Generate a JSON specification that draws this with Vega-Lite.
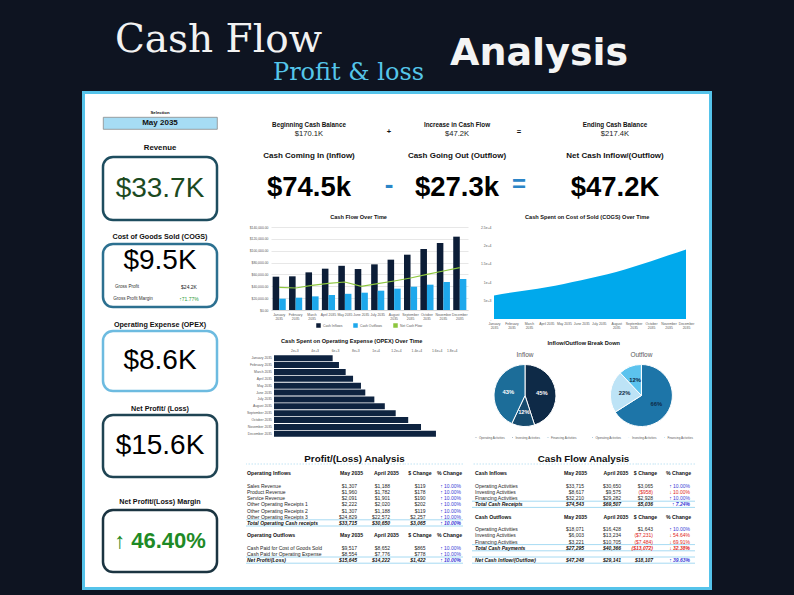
{
  "$schema": "https://vega.github.io/schema/vega-lite/v6.json",
  "background": "#ffffff",
  "padding": 0,
  "spacing": 0,
  "config": {
    "view": {"stroke": null},
    "concat": {"spacing": 0},
    "font": "Liberation Sans, Arial, sans-serif",
    "axis": {"labelFont": "Liberation Sans, Arial, sans-serif", "labelFontSize": 3.4, "labelColor": "#595959", "labelOverlap": false},
    "legend": {"labelFont": "Liberation Sans, Arial, sans-serif", "layout": {"anchor": "middle"}},
    "title": {"font": "Liberation Sans, Arial, sans-serif", "fontWeight": "bold", "color": "#111111", "anchor": "middle"}
  },
  "datasets": {
    "monthly": [
      {"month": "January 2035", "inflow": 56200, "outflow": 19100, "net": 38200, "cogs": 6400, "opex": 5770},
      {"month": "February 2035", "inflow": 56800, "outflow": 20800, "net": 37100, "cogs": 7200, "opex": 6390},
      {"month": "March 2035", "inflow": 63500, "outflow": 23000, "net": 41600, "cogs": 7900, "opex": 7050},
      {"month": "April 2035", "inflow": 69700, "outflow": 25300, "net": 45000, "cogs": 8652, "opex": 7776},
      {"month": "May 2035", "inflow": 74543, "outflow": 27295, "net": 47248, "cogs": 9517, "opex": 8554},
      {"month": "June 2035", "inflow": 69100, "outflow": 29200, "net": 39900, "cogs": 10500, "opex": 8980},
      {"month": "July 2035", "inflow": 77000, "outflow": 32600, "net": 44400, "cogs": 11600, "opex": 9870},
      {"month": "August 2035", "inflow": 84900, "outflow": 36000, "net": 48900, "cogs": 12800, "opex": 10900},
      {"month": "September 2035", "inflow": 93300, "outflow": 39300, "net": 54000, "cogs": 14200, "opex": 11970},
      {"month": "October 2035", "inflow": 102900, "outflow": 42700, "net": 60200, "cogs": 15700, "opex": 13200},
      {"month": "November 2035", "inflow": 113000, "outflow": 47200, "net": 65800, "cogs": 17300, "opex": 14460},
      {"month": "December 2035", "inflow": 123700, "outflow": 52300, "net": 71400, "cogs": 18900, "opex": 15930}
    ],
    "breakdown": [
      {"flow": "Inflow", "activity": "Operating Activities", "rank": 1, "share": 0.45},
      {"flow": "Inflow", "activity": "Investing Activities", "rank": 2, "share": 0.12},
      {"flow": "Inflow", "activity": "Financing Activities", "rank": 3, "share": 0.43},
      {"flow": "Outflow", "activity": "Operating Activities", "rank": 1, "share": 0.66},
      {"flow": "Outflow", "activity": "Investing Activities", "rank": 2, "share": 0.22},
      {"flow": "Outflow", "activity": "Financing Activities", "rank": 3, "share": 0.12}
    ],
    "plHead": [
      {"row": 0, "label": "Operating Inflows", "may": "May 2035", "apr": "April 2035", "chg": "$ Change", "pct": "% Change"},
      {"row": 10, "label": "Operating  Outflows", "may": "May 2035", "apr": "April 2035", "chg": "$ Change", "pct": "% Change"}
    ],
    "plRows": [
      {"row": 2, "kind": "item", "label": "Sales Revenue", "may": 1307, "apr": 1188, "chg": 119, "pct": 0.1},
      {"row": 3, "kind": "item", "label": "Product Revenue", "may": 1960, "apr": 1782, "chg": 178, "pct": 0.1},
      {"row": 4, "kind": "item", "label": "Service Revenue", "may": 2091, "apr": 1901, "chg": 190, "pct": 0.1},
      {"row": 5, "kind": "item", "label": "Other Operating Receipts 1", "may": 2222, "apr": 2020, "chg": 202, "pct": 0.1},
      {"row": 6, "kind": "item", "label": "Other Operating Receipts 2", "may": 1307, "apr": 1188, "chg": 119, "pct": 0.1},
      {"row": 7, "kind": "item", "label": "Other Operating Receipts 3", "may": 24829, "apr": 22572, "chg": 2257, "pct": 0.1},
      {"row": 8, "kind": "total", "label": "Total Operating Cash receipts", "may": 33715, "apr": 30650, "chg": 3065, "pct": 0.1},
      {"row": 12, "kind": "item", "label": "Cash Paid for Cost of Goods Sold", "may": 9517, "apr": 8652, "chg": 865, "pct": 0.1},
      {"row": 13, "kind": "item", "label": "Cash Paid for Operating Expense", "may": 8554, "apr": 7776, "chg": 778, "pct": 0.1},
      {"row": 14, "kind": "total", "label": "Net Profit/(Loss)", "may": 15645, "apr": 14222, "chg": 1422, "pct": 0.1}
    ],
    "plLines": [{"row": 8}, {"row": 9}, {"row": 14}, {"row": 15}],
    "cfHead": [
      {"row": 0, "label": "Cash Inflows", "may": "May 2035", "apr": "April 2035", "chg": "$ Change", "pct": "% Change"},
      {"row": 7, "label": "Cash Outflows", "may": "May 2035", "apr": "April 2035", "chg": "$ Change", "pct": "% Change"}
    ],
    "cfRows": [
      {"row": 2, "kind": "item", "label": "Operating Activities", "may": 33715, "apr": 30650, "chg": 3065, "pct": 0.1},
      {"row": 3, "kind": "item", "label": "Investing Activities", "may": 8617, "apr": 9575, "chg": -958, "pct": -0.1},
      {"row": 4, "kind": "item", "label": "Financing Activities", "may": 32210, "apr": 29282, "chg": 2928, "pct": 0.1},
      {"row": 5, "kind": "total", "label": "Total Cash Receipts", "may": 74543, "apr": 69507, "chg": 5036, "pct": 0.0724},
      {"row": 9, "kind": "item", "label": "Operating Activities", "may": 18071, "apr": 16428, "chg": 1643, "pct": 0.1},
      {"row": 10, "kind": "item", "label": "Investing Activities", "may": 6003, "apr": 13234, "chg": -7231, "pct": -0.5464},
      {"row": 11, "kind": "item", "label": "Financing Activities", "may": 3221, "apr": 10705, "chg": -7484, "pct": -0.6991},
      {"row": 12, "kind": "total", "label": "Total Cash Payments", "may": 27295, "apr": 40366, "chg": -13072, "pct": -0.3238},
      {"row": 14, "kind": "total", "label": "Net Cash Inflow/(Outflow)", "may": 47248, "apr": 29141, "chg": 18107, "pct": 0.3963}
    ],
    "cfLines": [{"row": 5}, {"row": 6}, {"row": 12}, {"row": 13}, {"row": 14}, {"row": 15}]
  },
  "hconcat": [
    {"width": 82, "height": 595, "view": {"fill": "#0e1421"}, "data": {"values": []}, "mark": "point"},
    {
      "vconcat": [
        {"width": 3, "height": 91, "view": {"fill": "#0e1421"}, "data": {"values": []}, "mark": "point"},
        {"width": 3, "height": 499, "view": {"fill": "#55c3ea"}, "data": {"values": []}, "mark": "point"},
        {"width": 3, "height": 5, "view": {"fill": "#0e1421"}, "data": {"values": []}, "mark": "point"}
      ]
    },
    {
      "vconcat": [
        {
          "width": 624, "height": 91, "view": {"fill": "#0e1421"},
          "data": {"values": [{"title": "Cash Flow", "subtitle": "Profit & loss", "tag": "Analysis"}]},
          "layer": [
            {"mark": {"type": "text", "font": "DejaVu Serif", "fontSize": 39, "color": "#f2f2f2", "align": "left", "baseline": "alphabetic", "dx": -282, "dy": 6.5}, "encoding": {"text": {"field": "title"}}},
            {"mark": {"type": "text", "font": "DejaVu Serif", "fontSize": 24, "color": "#55c6ea", "align": "left", "baseline": "alphabetic", "dx": -124, "dy": 34.5}, "encoding": {"text": {"field": "subtitle"}}},
            {"mark": {"type": "text", "font": "DejaVu Sans", "fontSize": 38, "fontWeight": "bold", "color": "#f4f4f4", "align": "left", "baseline": "alphabetic", "dx": 53, "dy": 19.5}, "encoding": {"text": {"field": "tag"}}}
          ]
        },
        {"width": 624, "height": 3, "view": {"fill": "#55c3ea"}, "data": {"values": []}, "mark": "point"},
        {
          "hconcat": [
            {"width": 15.75, "height": 493, "data": {"values": []}, "mark": "point"},
            {
              "bounds": "flush",
              "vconcat": [
                {"width": 1, "height": 23, "data": {"values": []}, "mark": "point"},
                {
                  "width": 114, "height": 12,
                  "view": {"fill": "#a6dcf4", "stroke": "#8c8c8c", "strokeWidth": 0.8},
                  "title": {"text": "Selection", "fontSize": 4.3, "offset": 1.5},
                  "data": {"values": [{"period": "May 2035"}]},
                  "mark": {"type": "text", "fontSize": 8, "fontWeight": "bold", "color": "#111111"},
                  "encoding": {"text": {"field": "period"}}
                },
                {"width": 1, "height": 28, "data": {"values": []}, "mark": "point"},
                {
                  "width": 114, "height": 63,
                  "view": {"stroke": "#1e4d5f", "strokeWidth": 2.5, "cornerRadius": 10},
                  "title": {"text": "Revenue", "fontSize": 7.8, "offset": 5},
                  "data": {"values": [{"amount": "$33.7K"}]},
                  "mark": {"type": "text", "fontSize": 28, "color": "#1c4a1f"},
                  "encoding": {"text": {"field": "amount"}}
                },
                {"width": 1, "height": 24, "data": {"values": []}, "mark": "point"},
                {
                  "width": 114, "height": 63,
                  "view": {"stroke": "#2c7090", "strokeWidth": 2.5, "cornerRadius": 10},
                  "title": {"text": "Cost of Goods Sold (COGS)", "fontSize": 7.2, "offset": 4},
                  "data": {"values": [{"amount": "$9.5K", "gpLabel": "Gross Profit", "gp": "$24.2K", "gpmLabel": "Gross Profit Margin", "gpm": "↑71.77%"}]},
                  "layer": [
                    {"mark": {"type": "text", "fontSize": 28, "color": "#000000", "dy": -15}, "encoding": {"text": {"field": "amount"}}},
                    {"mark": {"type": "text", "fontSize": 4.6, "color": "#333333", "dx": -33, "dy": 11.5}, "encoding": {"text": {"field": "gpLabel"}}},
                    {"mark": {"type": "text", "fontSize": 5, "color": "#222222", "dx": 29, "dy": 11.5}, "encoding": {"text": {"field": "gp"}}},
                    {"mark": {"type": "text", "fontSize": 4.6, "color": "#333333", "dx": -27, "dy": 23.5}, "encoding": {"text": {"field": "gpmLabel"}}},
                    {"mark": {"type": "text", "fontSize": 5, "color": "#2e9c3c", "dx": 29, "dy": 23.5}, "encoding": {"text": {"field": "gpm"}}}
                  ]
                },
                {"width": 1, "height": 24, "data": {"values": []}, "mark": "point"},
                {
                  "width": 114, "height": 60,
                  "view": {"stroke": "#6dbbe0", "strokeWidth": 2.5, "cornerRadius": 10},
                  "title": {"text": "Operating Expense (OPEX)", "fontSize": 7.2, "offset": 3},
                  "data": {"values": [{"amount": "$8.6K"}]},
                  "mark": {"type": "text", "fontSize": 28, "color": "#000000"},
                  "encoding": {"text": {"field": "amount"}}
                },
                {"width": 1, "height": 24, "data": {"values": []}, "mark": "point"},
                {
                  "width": 114, "height": 62,
                  "view": {"stroke": "#1f4453", "strokeWidth": 2.5, "cornerRadius": 10},
                  "title": {"text": "Net Profit/ (Loss)", "fontSize": 7.2, "offset": 3},
                  "data": {"values": [{"amount": "$15.6K"}]},
                  "mark": {"type": "text", "fontSize": 28, "color": "#000000"},
                  "encoding": {"text": {"field": "amount"}}
                },
                {"width": 1, "height": 33, "data": {"values": []}, "mark": "point"},
                {
                  "width": 114, "height": 62,
                  "view": {"stroke": "#1b3441", "strokeWidth": 2.5, "cornerRadius": 10},
                  "title": {"text": "Net Profit/(Loss) Margin", "fontSize": 7.2, "offset": 5},
                  "data": {"values": [{"amount": "↑ 46.40%"}]},
                  "mark": {"type": "text", "fontSize": 22, "fontWeight": "bold", "color": "#1e8a26"},
                  "encoding": {"text": {"field": "amount"}}
                }
              ]
            },
            {"width": 22.75, "height": 1, "data": {"values": []}, "mark": "point"},
            {
              "vconcat": [
                {"width": 1, "height": 27, "data": {"values": []}, "mark": "point"},
                {
                  "bounds": "flush",
                  "hconcat": [
                    {
                      "width": 134, "height": 56,
                      "title": {"text": "Beginning Cash Balance", "subtitle": "$170.1K", "fontSize": 6.3, "subtitleFont": "Liberation Sans, Arial, sans-serif", "subtitleFontSize": 7.6, "subtitleColor": "#222222", "subtitlePadding": 2.5, "offset": 6},
                      "data": {"values": [{"heading": "Cash Coming In (Inflow)", "amount": "$74.5k"}]},
                      "layer": [
                        {"mark": {"type": "text", "fontSize": 8, "fontWeight": "bold", "color": "#111111", "dy": -16}, "encoding": {"text": {"field": "heading"}}},
                        {"mark": {"type": "text", "fontSize": 27.5, "fontWeight": "bold", "color": "#000000", "dy": 16}, "encoding": {"text": {"field": "amount"}}}
                      ]
                    },
                    {
                      "width": 26, "height": 56,
                      "title": {"text": "+", "fontSize": 7.5, "offset": 9},
                      "data": {"values": [{"sign": "-"}]},
                      "mark": {"type": "text", "fontSize": 26, "fontWeight": "bold", "color": "#2b85c7", "dy": 13},
                      "encoding": {"text": {"field": "sign"}}
                    },
                    {
                      "width": 110, "height": 56,
                      "title": {"text": "Increase in Cash Flow", "subtitle": "$47.2K", "fontSize": 6.3, "subtitleFont": "Liberation Sans, Arial, sans-serif", "subtitleFontSize": 7.6, "subtitleColor": "#222222", "subtitlePadding": 2.5, "offset": 6},
                      "data": {"values": [{"heading": "Cash Going Out (Outflow)", "amount": "$27.3k"}]},
                      "layer": [
                        {"mark": {"type": "text", "fontSize": 8, "fontWeight": "bold", "color": "#111111", "dy": -16}, "encoding": {"text": {"field": "heading"}}},
                        {"mark": {"type": "text", "fontSize": 27.5, "fontWeight": "bold", "color": "#000000", "dy": 16}, "encoding": {"text": {"field": "amount"}}}
                      ]
                    },
                    {
                      "width": 14, "height": 56,
                      "title": {"text": "=", "fontSize": 7.5, "offset": 9},
                      "data": {"values": [{"sign": "="}]},
                      "mark": {"type": "text", "fontSize": 24, "fontWeight": "bold", "color": "#2b85c7", "dy": 13},
                      "encoding": {"text": {"field": "sign"}}
                    },
                    {
                      "width": 178, "height": 56,
                      "title": {"text": "Ending Cash Balance", "subtitle": "$217.4K", "fontSize": 6.3, "subtitleFont": "Liberation Sans, Arial, sans-serif", "subtitleFontSize": 7.6, "subtitleColor": "#222222", "subtitlePadding": 2.5, "offset": 6},
                      "data": {"values": [{"heading": "Net Cash Inflow/(Outflow)", "amount": "$47.2K"}]},
                      "layer": [
                        {"mark": {"type": "text", "fontSize": 8, "fontWeight": "bold", "color": "#111111", "dy": -16}, "encoding": {"text": {"field": "heading"}}},
                        {"mark": {"type": "text", "fontSize": 27.5, "fontWeight": "bold", "color": "#000000", "dy": 16}, "encoding": {"text": {"field": "amount"}}}
                      ]
                    }
                  ]
                },
                {"width": 1, "height": 13, "data": {"values": []}, "mark": "point"},
                {
                  "resolve": {"scale": {"color": "independent"}, "legend": {"color": "independent"}},
                  "hconcat": [
                    {"width": 7, "height": 1, "data": {"values": []}, "mark": "point"},
                    {
                      "width": 197, "height": 83,
                      "title": {"text": "Cash Flow Over Time", "fontSize": 5.6, "frame": "bounds", "offset": 4},
                      "data": {"name": "monthly"},
                      "encoding": {
                        "x": {
                          "field": "month", "type": "ordinal", "sort": null, "title": null,
                          "scale": {"paddingInner": 0.2, "paddingOuter": 0.1},
                          "axis": {"labelAngle": 0, "labelLineHeight": 4, "labelPadding": 2.5, "ticks": false, "domain": true, "domainColor": "#d0d0d0", "domainWidth": 0.6,
                            "labelExpr": "test(/^(April|May|June|July)/, datum.label) ? datum.label : split(datum.label, ' ')"}
                        }
                      },
                      "layer": [
                        {
                          "transform": [{"fold": ["inflow", "outflow"], "as": ["series", "amount"]}],
                          "mark": {"type": "bar"},
                          "encoding": {
                            "xOffset": {"field": "series", "type": "nominal", "sort": ["inflow", "outflow"]},
                            "y": {"field": "amount", "type": "quantitative", "title": null, "scale": {"domain": [0, 140000]},
                              "axis": {"values": [0, 20000, 40000, 60000, 80000, 100000, 120000, 140000], "format": "$,.2f", "grid": true, "gridColor": "#d6d6d6", "gridWidth": 0.6, "domain": false, "ticks": false, "labelPadding": 3, "labelOverlap": false}},
                            "color": {"field": "series", "type": "nominal",
                              "scale": {"domain": ["inflow", "outflow", "net"], "range": ["#0c1d37", "#1ea8ec", "#8dc63f"]},
                              "legend": {"orient": "bottom", "direction": "horizontal", "title": null, "symbolType": "square", "symbolSize": 9, "labelFontSize": 3.4, "labelColor": "#595959", "columnPadding": 8, "labelOffset": 2, "offset": 3, "padding": 0,
                                "labelExpr": "datum.label === 'inflow' ? 'Cash Inflows' : datum.label === 'outflow' ? 'Cash Outflows' : 'Net Cash Flow'"}}
                          }
                        },
                        {
                          "mark": {"type": "line", "strokeWidth": 1.2},
                          "encoding": {
                            "y": {"field": "net", "type": "quantitative", "title": null, "scale": {"domain": [0, 140000]},
                              "axis": {"values": [0, 20000, 40000, 60000, 80000, 100000, 120000, 140000], "format": "$,.2f", "grid": true, "gridColor": "#d6d6d6", "gridWidth": 0.6, "domain": false, "ticks": false, "labelPadding": 3, "labelOverlap": false}},
                            "color": {"datum": "net"}
                          }
                        }
                      ]
                    },
                    {"width": 11.5, "height": 1, "data": {"values": []}, "mark": "point"},
                    {
                      "width": 192, "height": 92,
                      "title": {"text": "Cash Spent on Cost of Sold (COGS) Over Time", "fontSize": 5.6, "frame": "bounds", "offset": 4},
                      "data": {"name": "monthly"},
                      "mark": {"type": "area", "color": "#00a9ec", "interpolate": "monotone"},
                      "encoding": {
                        "x": {
                          "field": "month", "type": "ordinal", "sort": null, "title": null,
                          "scale": {"type": "point", "padding": 0},
                          "axis": {"labelAngle": 0, "labelLineHeight": 4, "labelPadding": 2.5, "ticks": false, "domain": false,
                            "labelExpr": "test(/^(April|May|June|July)/, datum.label) ? datum.label : split(datum.label, ' ')"}
                        },
                        "y": {"field": "cogs", "type": "quantitative", "title": null, "scale": {"domain": [0, 25000]},
                          "axis": {"values": [0, 5000, 10000, 15000, 20000, 25000], "format": ",", "labelExpr": "datum.value === 0 ? '-' : datum.label", "grid": false, "domain": false, "ticks": false, "labelPadding": 3}}
                      }
                    }
                  ]
                },
                {"width": 1, "height": 9, "data": {"values": []}, "mark": "point"},
                {
                  "hconcat": [
                    {"width": 4, "height": 1, "data": {"values": []}, "mark": "point"},
                    {
                      "width": 183, "height": 82,
                      "title": {"text": "Cash Spent on Operating Expense (OPEX) Over Time", "fontSize": 5.6, "frame": "bounds", "offset": 3},
                      "data": {"name": "monthly"},
                      "mark": {"type": "bar", "color": "#0e2340"},
                      "encoding": {
                        "y": {"field": "month", "type": "ordinal", "sort": null, "title": null,
                          "scale": {"paddingInner": 0.13, "paddingOuter": 0.03},
                          "axis": {"labelPadding": 2.5, "ticks": false, "domain": false}},
                        "x": {"field": "opex", "type": "quantitative", "title": null, "scale": {"domain": [0, 18000]},
                          "axis": {"orient": "top", "values": [0, 2000, 4000, 6000, 8000, 10000, 12000, 14000, 16000, 18000], "format": ",", "labelExpr": "datum.value === 0 ? '' : datum.label", "grid": false, "domain": false, "ticks": false, "labelPadding": 3}}
                      }
                    },
                    {"width": 17, "height": 1, "data": {"values": []}, "mark": "point"},
                    {
                      "title": {"text": "Inflow/Outflow Break Down", "fontSize": 5.6, "offset": 5},
                      "spacing": 13.4,
                      "resolve": {"scale": {"color": "independent", "theta": "independent"}, "legend": {"color": "independent"}},
                      "hconcat": [
                        {
                          "width": 94, "height": 81,
                          "title": {"text": "Inflow", "fontSize": 6.5, "fontWeight": "normal", "color": "#595959", "offset": -3},
                          "data": {"name": "breakdown"},
                          "transform": [{"filter": "datum.flow === 'Inflow'"}],
                          "encoding": {
                            "theta": {"field": "share", "type": "quantitative", "stack": true},
                            "order": {"field": "rank", "type": "quantitative"},
                            "color": {"field": "activity", "type": "nominal", "sort": ["Operating Activities", "Investing Activities", "Financing Activities"],
                              "scale": {"domain": ["Operating Activities", "Investing Activities", "Financing Activities"], "range": ["#0e2a47", "#174b6e", "#1c6d99"]},
                              "legend": {"orient": "bottom", "direction": "horizontal", "title": null, "symbolType": "circle", "symbolSize": 5, "labelFontSize": 3, "labelColor": "#595959", "columnPadding": 2.5, "labelOffset": 1, "offset": -1, "padding": 0}}
                          },
                          "layer": [
                            {"mark": {"type": "arc", "outerRadius": 31, "stroke": "#ffffff", "strokeWidth": 1}},
                            {"mark": {"type": "text", "radius": 17, "fontSize": 5.8, "fontWeight": "bold"},
                              "encoding": {"text": {"field": "share", "type": "quantitative", "format": ".0%"}, "color": {"value": "#ffffff"}}}
                          ]
                        },
                        {
                          "width": 94, "height": 81,
                          "title": {"text": "Outflow", "fontSize": 6.5, "fontWeight": "normal", "color": "#595959", "offset": -3},
                          "data": {"name": "breakdown"},
                          "transform": [{"filter": "datum.flow === 'Outflow'"}],
                          "encoding": {
                            "theta": {"field": "share", "type": "quantitative", "stack": true},
                            "order": {"field": "rank", "type": "quantitative"},
                            "color": {"field": "activity", "type": "nominal", "sort": ["Operating Activities", "Investing Activities", "Financing Activities"],
                              "scale": {"domain": ["Operating Activities", "Investing Activities", "Financing Activities"], "range": ["#1d75a8", "#bde3f6", "#5cc3ee"]},
                              "legend": {"orient": "bottom", "direction": "horizontal", "title": null, "symbolType": "circle", "symbolSize": 5, "labelFontSize": 3, "labelColor": "#595959", "columnPadding": 2.5, "labelOffset": 1, "offset": -1, "padding": 0}}
                          },
                          "layer": [
                            {"mark": {"type": "arc", "outerRadius": 31, "stroke": "#ffffff", "strokeWidth": 1}},
                            {"mark": {"type": "text", "radius": 17, "fontSize": 5.8, "fontWeight": "bold"},
                              "encoding": {"text": {"field": "share", "type": "quantitative", "format": ".0%"}, "color": {"value": "#0e2a47"}}}
                          ]
                        }
                      ]
                    }
                  ]
                },
                {"width": 1, "height": 11, "data": {"values": []}, "mark": "point"},
                {
                  "hconcat": [
                    {"width": 3, "height": 1, "data": {"values": []}, "mark": "point"},
                    {
                      "title": {"text": "Profit/(Loss) Analysis", "fontSize": 9.8, "offset": 0},
                      "bounds": "flush",
                      "hconcat": [
                        {
                          "width": 88, "height": 105.4,
                          "encoding": {"y": {"field": "row", "type": "ordinal", "axis": null, "scale": {"type": "band", "domain": [-1, 0, 1, 2, 3, 4, 5, 6, 7, 8, 9, 10, 11, 12, 13, 14, 15], "paddingInner": 0, "paddingOuter": 0}}},
                          "layer": [
                            {"data": {"name": "plLines"}, "mark": {"type": "rule", "color": "#8fd0ef", "strokeWidth": 0.8}, "encoding": {"y": {"field": "row", "type": "ordinal", "bandPosition": 0}}},
                            {"data": {"values": [{"row": -1}]}, "mark": {"type": "rule", "color": "#a8d8ef", "strokeWidth": 0.7, "strokeDash": [1.5, 1.5]}, "encoding": {"y": {"field": "row", "type": "ordinal", "bandPosition": 0}}},
                            {"data": {"name": "plHead"}, "mark": {"type": "text", "align": "left", "x": 0, "dx": 1, "fontSize": 5.2, "fontWeight": "bold", "color": "#111111"}, "encoding": {"text": {"field": "label"}}},
                            {"data": {"name": "plRows"}, "transform": [{"filter": "datum.kind === 'item'"}], "mark": {"type": "text", "align": "left", "x": 0, "dx": 1, "fontSize": 5, "color": "#262626"}, "encoding": {"text": {"field": "label"}}},
                            {"data": {"name": "plRows"}, "transform": [{"filter": "datum.kind === 'total'"}], "mark": {"type": "text", "align": "left", "x": 0, "dx": 1, "fontSize": 5, "fontWeight": "bold", "fontStyle": "italic", "color": "#111111"}, "encoding": {"text": {"field": "label"}}}
                          ]
                        },
                        {
                          "width": 35, "height": 105.4,
                          "encoding": {"y": {"field": "row", "type": "ordinal", "axis": null, "scale": {"type": "band", "domain": [-1, 0, 1, 2, 3, 4, 5, 6, 7, 8, 9, 10, 11, 12, 13, 14, 15], "paddingInner": 0, "paddingOuter": 0}}},
                          "layer": [
                            {"data": {"name": "plLines"}, "mark": {"type": "rule", "color": "#8fd0ef", "strokeWidth": 0.8}, "encoding": {"y": {"field": "row", "type": "ordinal", "bandPosition": 0}}},
                            {"data": {"values": [{"row": -1}]}, "mark": {"type": "rule", "color": "#a8d8ef", "strokeWidth": 0.7, "strokeDash": [1.5, 1.5]}, "encoding": {"y": {"field": "row", "type": "ordinal", "bandPosition": 0}}},
                            {"data": {"name": "plHead"}, "mark": {"type": "text", "fontSize": 5.2, "fontWeight": "bold", "color": "#111111"}, "encoding": {"text": {"field": "may"}}},
                            {"data": {"name": "plRows"}, "transform": [{"filter": "datum.kind === 'item'"}], "mark": {"type": "text", "align": "right", "x": "width", "dx": -12, "fontSize": 5, "color": "#262626"}, "encoding": {"text": {"field": "may", "type": "quantitative", "format": "$,.0f"}}},
                            {"data": {"name": "plRows"}, "transform": [{"filter": "datum.kind === 'total'"}], "mark": {"type": "text", "align": "right", "x": "width", "dx": -12, "fontSize": 5, "fontWeight": "bold", "fontStyle": "italic", "color": "#111111"}, "encoding": {"text": {"field": "may", "type": "quantitative", "format": "$,.0f"}}}
                          ]
                        },
                        {
                          "width": 35, "height": 105.4,
                          "encoding": {"y": {"field": "row", "type": "ordinal", "axis": null, "scale": {"type": "band", "domain": [-1, 0, 1, 2, 3, 4, 5, 6, 7, 8, 9, 10, 11, 12, 13, 14, 15], "paddingInner": 0, "paddingOuter": 0}}},
                          "layer": [
                            {"data": {"name": "plLines"}, "mark": {"type": "rule", "color": "#8fd0ef", "strokeWidth": 0.8}, "encoding": {"y": {"field": "row", "type": "ordinal", "bandPosition": 0}}},
                            {"data": {"values": [{"row": -1}]}, "mark": {"type": "rule", "color": "#a8d8ef", "strokeWidth": 0.7, "strokeDash": [1.5, 1.5]}, "encoding": {"y": {"field": "row", "type": "ordinal", "bandPosition": 0}}},
                            {"data": {"name": "plHead"}, "mark": {"type": "text", "fontSize": 5.2, "fontWeight": "bold", "color": "#111111"}, "encoding": {"text": {"field": "apr"}}},
                            {"data": {"name": "plRows"}, "transform": [{"filter": "datum.kind === 'item'"}], "mark": {"type": "text", "align": "right", "x": "width", "dx": -14, "fontSize": 5, "color": "#262626"}, "encoding": {"text": {"field": "apr", "type": "quantitative", "format": "$,.0f"}}},
                            {"data": {"name": "plRows"}, "transform": [{"filter": "datum.kind === 'total'"}], "mark": {"type": "text", "align": "right", "x": "width", "dx": -14, "fontSize": 5, "fontWeight": "bold", "fontStyle": "italic", "color": "#111111"}, "encoding": {"text": {"field": "apr", "type": "quantitative", "format": "$,.0f"}}}
                          ]
                        },
                        {
                          "width": 32, "height": 105.4,
                          "encoding": {"y": {"field": "row", "type": "ordinal", "axis": null, "scale": {"type": "band", "domain": [-1, 0, 1, 2, 3, 4, 5, 6, 7, 8, 9, 10, 11, 12, 13, 14, 15], "paddingInner": 0, "paddingOuter": 0}}},
                          "layer": [
                            {"data": {"name": "plLines"}, "mark": {"type": "rule", "color": "#8fd0ef", "strokeWidth": 0.8}, "encoding": {"y": {"field": "row", "type": "ordinal", "bandPosition": 0}}},
                            {"data": {"values": [{"row": -1}]}, "mark": {"type": "rule", "color": "#a8d8ef", "strokeWidth": 0.7, "strokeDash": [1.5, 1.5]}, "encoding": {"y": {"field": "row", "type": "ordinal", "bandPosition": 0}}},
                            {"data": {"name": "plHead"}, "mark": {"type": "text", "fontSize": 5.2, "fontWeight": "bold", "color": "#111111"}, "encoding": {"text": {"field": "chg"}}},
                            {"data": {"name": "plRows"}, "transform": [{"filter": "datum.kind === 'item'"}, {"calculate": "datum.chg < 0 ? '(' + format(-datum.chg, '$,.0f') + ')' : format(datum.chg, '$,.0f')", "as": "chgText"}], "mark": {"type": "text", "align": "right", "x": "width", "dx": -10.5, "fontSize": 5}, "encoding": {"text": {"field": "chgText"}, "color": {"condition": {"test": "datum.chg < 0", "value": "#e0261b"}, "value": "#262626"}}},
                            {"data": {"name": "plRows"}, "transform": [{"filter": "datum.kind === 'total'"}, {"calculate": "datum.chg < 0 ? '(' + format(-datum.chg, '$,.0f') + ')' : format(datum.chg, '$,.0f')", "as": "chgText"}], "mark": {"type": "text", "align": "right", "x": "width", "dx": -10.5, "fontSize": 5, "fontWeight": "bold", "fontStyle": "italic"}, "encoding": {"text": {"field": "chgText"}, "color": {"condition": {"test": "datum.chg < 0", "value": "#e0261b"}, "value": "#111111"}}}
                          ]
                        },
                        {
                          "width": 27, "height": 105.4,
                          "encoding": {"y": {"field": "row", "type": "ordinal", "axis": null, "scale": {"type": "band", "domain": [-1, 0, 1, 2, 3, 4, 5, 6, 7, 8, 9, 10, 11, 12, 13, 14, 15], "paddingInner": 0, "paddingOuter": 0}}},
                          "layer": [
                            {"data": {"name": "plLines"}, "mark": {"type": "rule", "color": "#8fd0ef", "strokeWidth": 0.8}, "encoding": {"y": {"field": "row", "type": "ordinal", "bandPosition": 0}}},
                            {"data": {"values": [{"row": -1}]}, "mark": {"type": "rule", "color": "#a8d8ef", "strokeWidth": 0.7, "strokeDash": [1.5, 1.5]}, "encoding": {"y": {"field": "row", "type": "ordinal", "bandPosition": 0}}},
                            {"data": {"name": "plHead"}, "mark": {"type": "text", "fontSize": 5.2, "fontWeight": "bold", "color": "#111111"}, "encoding": {"text": {"field": "pct"}}},
                            {"data": {"name": "plRows"}, "transform": [{"filter": "datum.kind === 'item'"}, {"calculate": "(datum.pct < 0 ? '↓ ' : '↑ ') + format(abs(datum.pct), '.2%')", "as": "pctText"}], "mark": {"type": "text", "align": "right", "x": "width", "dx": -2, "fontSize": 5}, "encoding": {"text": {"field": "pctText"}, "color": {"condition": {"test": "datum.pct < 0", "value": "#e0261b"}, "value": "#3a3ad6"}}},
                            {"data": {"name": "plRows"}, "transform": [{"filter": "datum.kind === 'total'"}, {"calculate": "(datum.pct < 0 ? '↓ ' : '↑ ') + format(abs(datum.pct), '.2%')", "as": "pctText"}], "mark": {"type": "text", "align": "right", "x": "width", "dx": -2, "fontSize": 5, "fontWeight": "bold", "fontStyle": "italic"}, "encoding": {"text": {"field": "pctText"}, "color": {"condition": {"test": "datum.pct < 0", "value": "#e0261b"}, "value": "#3a3ad6"}}}
                          ]
                        }
                      ]
                    },
                    {"width": 7, "height": 1, "data": {"values": []}, "mark": "point"},
                    {
                      "title": {"text": "Cash Flow Analysis", "fontSize": 9.8, "offset": 0},
                      "bounds": "flush",
                      "hconcat": [
                        {
                          "width": 84, "height": 105.4,
                          "encoding": {"y": {"field": "row", "type": "ordinal", "axis": null, "scale": {"type": "band", "domain": [-1, 0, 1, 2, 3, 4, 5, 6, 7, 8, 9, 10, 11, 12, 13, 14, 15], "paddingInner": 0, "paddingOuter": 0}}},
                          "layer": [
                            {"data": {"name": "cfLines"}, "mark": {"type": "rule", "color": "#8fd0ef", "strokeWidth": 0.8}, "encoding": {"y": {"field": "row", "type": "ordinal", "bandPosition": 0}}},
                            {"data": {"values": [{"row": -1}]}, "mark": {"type": "rule", "color": "#a8d8ef", "strokeWidth": 0.7, "strokeDash": [1.5, 1.5]}, "encoding": {"y": {"field": "row", "type": "ordinal", "bandPosition": 0}}},
                            {"data": {"name": "cfHead"}, "mark": {"type": "text", "align": "left", "x": 0, "dx": 3, "fontSize": 5.2, "fontWeight": "bold", "color": "#111111"}, "encoding": {"text": {"field": "label"}}},
                            {"data": {"name": "cfRows"}, "transform": [{"filter": "datum.kind === 'item'"}], "mark": {"type": "text", "align": "left", "x": 0, "dx": 3, "fontSize": 5, "color": "#262626"}, "encoding": {"text": {"field": "label"}}},
                            {"data": {"name": "cfRows"}, "transform": [{"filter": "datum.kind === 'total'"}], "mark": {"type": "text", "align": "left", "x": 0, "dx": 3, "fontSize": 5, "fontWeight": "bold", "fontStyle": "italic", "color": "#111111"}, "encoding": {"text": {"field": "label"}}}
                          ]
                        },
                        {
                          "width": 39, "height": 105.4,
                          "encoding": {"y": {"field": "row", "type": "ordinal", "axis": null, "scale": {"type": "band", "domain": [-1, 0, 1, 2, 3, 4, 5, 6, 7, 8, 9, 10, 11, 12, 13, 14, 15], "paddingInner": 0, "paddingOuter": 0}}},
                          "layer": [
                            {"data": {"name": "cfLines"}, "mark": {"type": "rule", "color": "#8fd0ef", "strokeWidth": 0.8}, "encoding": {"y": {"field": "row", "type": "ordinal", "bandPosition": 0}}},
                            {"data": {"values": [{"row": -1}]}, "mark": {"type": "rule", "color": "#a8d8ef", "strokeWidth": 0.7, "strokeDash": [1.5, 1.5]}, "encoding": {"y": {"field": "row", "type": "ordinal", "bandPosition": 0}}},
                            {"data": {"name": "cfHead"}, "mark": {"type": "text", "fontSize": 5.2, "fontWeight": "bold", "color": "#111111"}, "encoding": {"text": {"field": "may"}}},
                            {"data": {"name": "cfRows"}, "transform": [{"filter": "datum.kind === 'item'"}], "mark": {"type": "text", "align": "right", "x": "width", "dx": -11, "fontSize": 5, "color": "#262626"}, "encoding": {"text": {"field": "may", "type": "quantitative", "format": "$,.0f"}}},
                            {"data": {"name": "cfRows"}, "transform": [{"filter": "datum.kind === 'total'"}], "mark": {"type": "text", "align": "right", "x": "width", "dx": -11, "fontSize": 5, "fontWeight": "bold", "fontStyle": "italic", "color": "#111111"}, "encoding": {"text": {"field": "may", "type": "quantitative", "format": "$,.0f"}}}
                          ]
                        },
                        {
                          "width": 42, "height": 105.4,
                          "encoding": {"y": {"field": "row", "type": "ordinal", "axis": null, "scale": {"type": "band", "domain": [-1, 0, 1, 2, 3, 4, 5, 6, 7, 8, 9, 10, 11, 12, 13, 14, 15], "paddingInner": 0, "paddingOuter": 0}}},
                          "layer": [
                            {"data": {"name": "cfLines"}, "mark": {"type": "rule", "color": "#8fd0ef", "strokeWidth": 0.8}, "encoding": {"y": {"field": "row", "type": "ordinal", "bandPosition": 0}}},
                            {"data": {"values": [{"row": -1}]}, "mark": {"type": "rule", "color": "#a8d8ef", "strokeWidth": 0.7, "strokeDash": [1.5, 1.5]}, "encoding": {"y": {"field": "row", "type": "ordinal", "bandPosition": 0}}},
                            {"data": {"name": "cfHead"}, "mark": {"type": "text", "fontSize": 5.2, "fontWeight": "bold", "color": "#111111"}, "encoding": {"text": {"field": "apr"}}},
                            {"data": {"name": "cfRows"}, "transform": [{"filter": "datum.kind === 'item'"}], "mark": {"type": "text", "align": "right", "x": "width", "dx": -16, "fontSize": 5, "color": "#262626"}, "encoding": {"text": {"field": "apr", "type": "quantitative", "format": "$,.0f"}}},
                            {"data": {"name": "cfRows"}, "transform": [{"filter": "datum.kind === 'total'"}], "mark": {"type": "text", "align": "right", "x": "width", "dx": -16, "fontSize": 5, "fontWeight": "bold", "fontStyle": "italic", "color": "#111111"}, "encoding": {"text": {"field": "apr", "type": "quantitative", "format": "$,.0f"}}}
                          ]
                        },
                        {
                          "width": 17, "height": 105.4,
                          "encoding": {"y": {"field": "row", "type": "ordinal", "axis": null, "scale": {"type": "band", "domain": [-1, 0, 1, 2, 3, 4, 5, 6, 7, 8, 9, 10, 11, 12, 13, 14, 15], "paddingInner": 0, "paddingOuter": 0}}},
                          "layer": [
                            {"data": {"name": "cfLines"}, "mark": {"type": "rule", "color": "#8fd0ef", "strokeWidth": 0.8}, "encoding": {"y": {"field": "row", "type": "ordinal", "bandPosition": 0}}},
                            {"data": {"values": [{"row": -1}]}, "mark": {"type": "rule", "color": "#a8d8ef", "strokeWidth": 0.7, "strokeDash": [1.5, 1.5]}, "encoding": {"y": {"field": "row", "type": "ordinal", "bandPosition": 0}}},
                            {"data": {"name": "cfHead"}, "mark": {"type": "text", "fontSize": 5.2, "fontWeight": "bold", "color": "#111111"}, "encoding": {"text": {"field": "chg"}}},
                            {"data": {"name": "cfRows"}, "transform": [{"filter": "datum.kind === 'item'"}, {"calculate": "datum.chg < 0 ? '(' + format(-datum.chg, '$,.0f') + ')' : format(datum.chg, '$,.0f')", "as": "chgText"}], "mark": {"type": "text", "align": "right", "x": "width", "dx": -1, "fontSize": 5}, "encoding": {"text": {"field": "chgText"}, "color": {"condition": {"test": "datum.chg < 0", "value": "#e0261b"}, "value": "#262626"}}},
                            {"data": {"name": "cfRows"}, "transform": [{"filter": "datum.kind === 'total'"}, {"calculate": "datum.chg < 0 ? '(' + format(-datum.chg, '$,.0f') + ')' : format(datum.chg, '$,.0f')", "as": "chgText"}], "mark": {"type": "text", "align": "right", "x": "width", "dx": -1, "fontSize": 5, "fontWeight": "bold", "fontStyle": "italic"}, "encoding": {"text": {"field": "chgText"}, "color": {"condition": {"test": "datum.chg < 0", "value": "#e0261b"}, "value": "#111111"}}}
                          ]
                        },
                        {
                          "width": 41, "height": 105.4,
                          "encoding": {"y": {"field": "row", "type": "ordinal", "axis": null, "scale": {"type": "band", "domain": [-1, 0, 1, 2, 3, 4, 5, 6, 7, 8, 9, 10, 11, 12, 13, 14, 15], "paddingInner": 0, "paddingOuter": 0}}},
                          "layer": [
                            {"data": {"name": "cfLines"}, "mark": {"type": "rule", "color": "#8fd0ef", "strokeWidth": 0.8}, "encoding": {"y": {"field": "row", "type": "ordinal", "bandPosition": 0}}},
                            {"data": {"values": [{"row": -1}]}, "mark": {"type": "rule", "color": "#a8d8ef", "strokeWidth": 0.7, "strokeDash": [1.5, 1.5]}, "encoding": {"y": {"field": "row", "type": "ordinal", "bandPosition": 0}}},
                            {"data": {"name": "cfHead"}, "mark": {"type": "text", "dx": 4, "fontSize": 5.2, "fontWeight": "bold", "color": "#111111"}, "encoding": {"text": {"field": "pct"}}},
                            {"data": {"name": "cfRows"}, "transform": [{"filter": "datum.kind === 'item'"}, {"calculate": "(datum.pct < 0 ? '↓ ' : '↑ ') + format(abs(datum.pct), '.2%')", "as": "pctText"}], "mark": {"type": "text", "align": "right", "x": "width", "dx": -5, "fontSize": 5}, "encoding": {"text": {"field": "pctText"}, "color": {"condition": {"test": "datum.pct < 0", "value": "#e0261b"}, "value": "#3a3ad6"}}},
                            {"data": {"name": "cfRows"}, "transform": [{"filter": "datum.kind === 'total'"}, {"calculate": "(datum.pct < 0 ? '↓ ' : '↑ ') + format(abs(datum.pct), '.2%')", "as": "pctText"}], "mark": {"type": "text", "align": "right", "x": "width", "dx": -5, "fontSize": 5, "fontWeight": "bold", "fontStyle": "italic"}, "encoding": {"text": {"field": "pctText"}, "color": {"condition": {"test": "datum.pct < 0", "value": "#e0261b"}, "value": "#3a3ad6"}}}
                          ]
                        }
                      ]
                    }
                  ]
                }
              ]
            }
          ]
        },
        {"width": 624, "height": 3, "view": {"fill": "#55c3ea"}, "data": {"values": []}, "mark": "point"},
        {"width": 624, "height": 5, "view": {"fill": "#0e1421"}, "data": {"values": []}, "mark": "point"}
      ]
    },
    {
      "vconcat": [
        {"width": 3, "height": 91, "view": {"fill": "#0e1421"}, "data": {"values": []}, "mark": "point"},
        {"width": 3, "height": 499, "view": {"fill": "#55c3ea"}, "data": {"values": []}, "mark": "point"},
        {"width": 3, "height": 5, "view": {"fill": "#0e1421"}, "data": {"values": []}, "mark": "point"}
      ]
    },
    {"width": 82, "height": 595, "view": {"fill": "#0e1421"}, "data": {"values": []}, "mark": "point"}
  ]
}
